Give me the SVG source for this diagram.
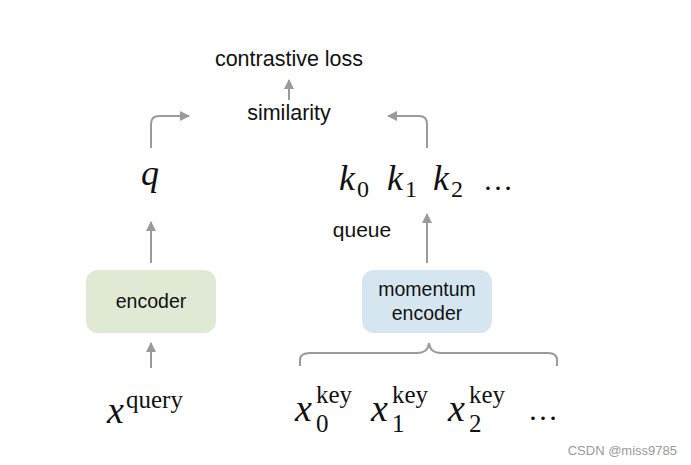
<svg xmlns="http://www.w3.org/2000/svg" width="691" height="465" viewBox="0 0 691 465">
<style>
.s{font-family:"Liberation Sans",Arial,sans-serif;fill:#111}
.m{font-family:"Liberation Serif",serif;font-style:italic;fill:#111}
.r{font-family:"Liberation Serif",serif;fill:#111}
.c{fill:none;stroke:#9a9a9a;stroke-width:2}
</style>
<defs><marker id="a" viewBox="0 0 10 10" refX="9" refY="5" markerWidth="5" markerHeight="5" orient="auto"><path d="M0,0L10,5L0,10z" fill="#9a9a9a"/></marker></defs>
<rect width="691" height="465" fill="#fff"/>
<g id="connectors">
<path class="c" d="M289,100V80" marker-end="url(#a)"/>
<path class="c" d="M151,148V124Q151,116 159,116H189" marker-end="url(#a)"/>
<path class="c" d="M427,148V124Q427,116 419,116H388" marker-end="url(#a)"/>
<path class="c" d="M151,263V222" marker-end="url(#a)"/>
<path class="c" d="M427,263V214" marker-end="url(#a)"/>
<path class="c" d="M151,368V343" marker-end="url(#a)"/>
<path class="c" d="M300,366V360Q300,353 310,353H417Q428,353 429,343Q430,353 441,353H548Q557,353 557,360V366"/>
</g>
<g id="loss"><text class="s" x="289" y="66" font-size="21.5" text-anchor="middle">contrastive loss</text></g>
<g id="similarity"><text class="s" x="289" y="120" font-size="21.5" text-anchor="middle">similarity</text></g>
<g id="q"><text class="m" x="150" y="185" font-size="36" text-anchor="middle">q</text></g>
<g id="keys">
<text class="m" x="339" y="190" font-size="36">k</text><text class="r" x="357" y="197" font-size="24">0</text>
<text class="m" x="387" y="190" font-size="36">k</text><text class="r" x="405" y="197" font-size="24">1</text>
<text class="m" x="433" y="190" font-size="36">k</text><text class="r" x="451" y="197" font-size="24">2</text>
<text class="r" x="483" y="190" font-size="30">…</text>
</g>
<g id="queue"><text class="s" x="362" y="237" font-size="21" text-anchor="middle">queue</text></g>
<g id="encoder"><rect x="86" y="270" width="130" height="63" rx="12" fill="#dfe9d3"/><text class="s" x="151" y="308" font-size="19.5" text-anchor="middle">encoder</text></g>
<g id="momentum"><rect x="362" y="270" width="130" height="63" rx="12" fill="#d6e6f1"/><text class="s" x="427" y="296" font-size="19.5" text-anchor="middle">momentum</text><text class="s" x="427" y="320" font-size="19.5" text-anchor="middle">encoder</text></g>
<g id="xquery"><text class="m" x="107" y="423" font-size="38">x</text><text class="r" x="126" y="408" font-size="25">query</text></g>
<g id="xkeys">
<text x="295" y="421" font-size="38" class="m">x</text><text class="r" x="316" y="403" font-size="25">key</text><text class="r" x="316" y="432" font-size="25">0</text>
<text x="371" y="421" font-size="38" class="m">x</text><text class="r" x="392" y="403" font-size="25">key</text><text class="r" x="392" y="432" font-size="25">1</text>
<text x="448" y="421" font-size="38" class="m">x</text><text class="r" x="469" y="403" font-size="25">key</text><text class="r" x="469" y="432" font-size="25">2</text>
<text class="r" x="528" y="420" font-size="30">…</text>
</g>
<text x="677" y="455" font-family="Liberation Sans,sans-serif" font-size="13" fill="#999" text-anchor="end">CSDN @miss9785</text>
</svg>
